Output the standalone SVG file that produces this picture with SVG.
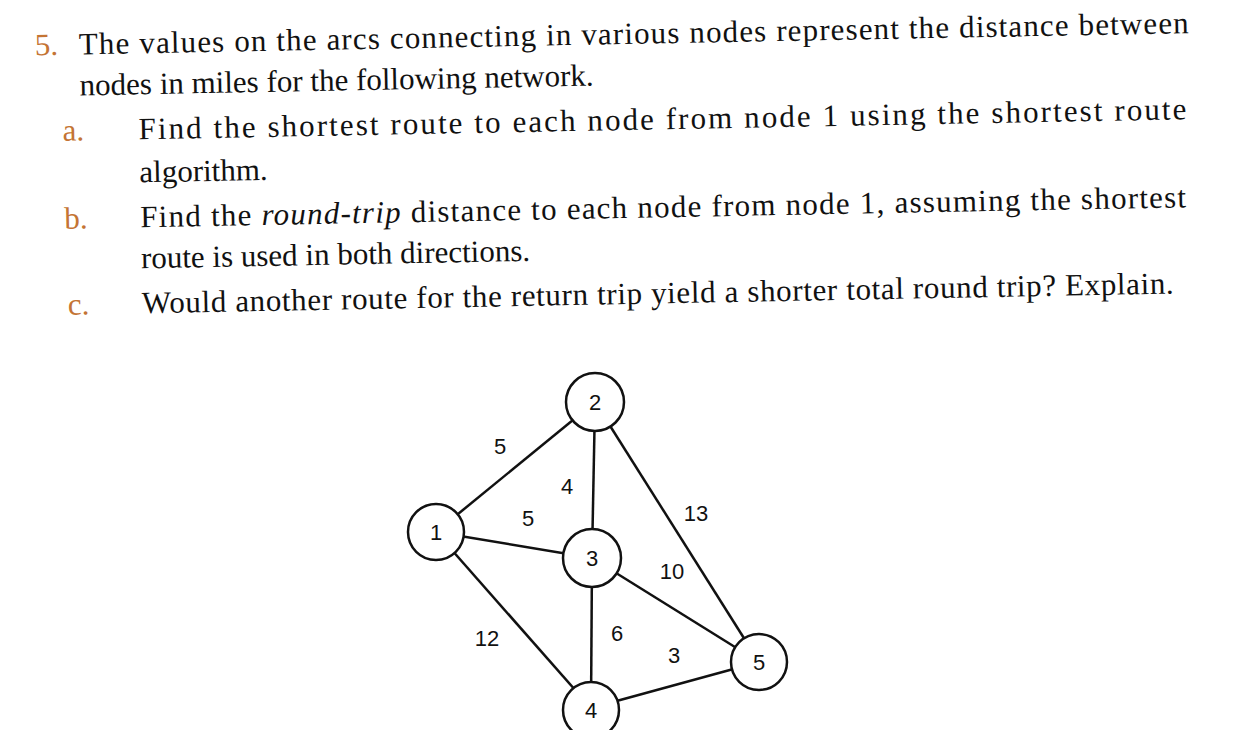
<svg xmlns="http://www.w3.org/2000/svg" width="1259" height="730" viewBox="0 0 1259 730">
<style>
.t{font-family:"Liberation Serif",serif;font-size:31px;fill:#111}
.o{fill:#c47434}
.n{fill:#fff;stroke:#111;stroke-width:2.5}
.l{font-family:"Liberation Sans",sans-serif;font-size:22px;fill:#111;text-anchor:middle}
#edges line{stroke:#111;stroke-width:2.5}
</style>
<rect width="1259" height="730" fill="#fff"/>
<g transform="rotate(-1.1 0 0)">
<text class="t o" x="34" y="56">5.</text>
<text class="t" x="78" y="56" textLength="1110" lengthAdjust="spacing">The values on the arcs connecting in various nodes represent the distance between</text>
<text class="t" x="78" y="97">nodes in miles for the following network.</text>
<text class="t o" x="60" y="142">a.</text>
<text class="t" x="136" y="142" textLength="1048" lengthAdjust="spacing">Find the shortest route to each node from node 1 using the shortest route</text>
<text class="t" x="136" y="185">algorithm.</text>
<text class="t o" x="60" y="230">b.</text>
<text class="t" x="136" y="230" textLength="1046" lengthAdjust="spacing">Find the <tspan font-style="italic">round-trip</tspan> distance to each node from node 1, assuming the shortest</text>
<text class="t" x="136" y="271">route is used in both directions.</text>
<text class="t o" x="62" y="316">c.</text>
<text class="t" x="136" y="316" textLength="1032" lengthAdjust="spacing">Would another route for the return trip yield a shorter total round trip? Explain.</text>
</g>
<g id="edges">
<line x1="436" y1="532" x2="595" y2="402"/>
<line x1="436" y1="532" x2="592" y2="558"/>
<line x1="436" y1="532" x2="591" y2="708"/>
<line x1="595" y1="402" x2="592" y2="558"/>
<line x1="595" y1="402" x2="759" y2="662"/>
<line x1="592" y1="558" x2="591" y2="708"/>
<line x1="592" y1="558" x2="759" y2="662"/>
<line x1="591" y1="708" x2="759" y2="662"/>
<text class="l" x="500" y="454">5</text>
<text class="l" x="567" y="494">4</text>
<text class="l" x="528" y="526">5</text>
<text class="l" x="696" y="521">13</text>
<text class="l" x="672" y="579">10</text>
<text class="l" x="487" y="646">12</text>
<text class="l" x="617" y="641">6</text>
<text class="l" x="674" y="663">3</text>
</g>
<g id="node1"><circle class="n" cx="436" cy="532" r="28"/><text class="l" x="436" y="540">1</text></g>
<g id="node2"><circle class="n" cx="595" cy="402" r="29"/><text class="l" x="595" y="410">2</text></g>
<g id="node3"><circle class="n" cx="592" cy="558" r="29"/><text class="l" x="592" y="566">3</text></g>
<g id="node4"><circle class="n" cx="591" cy="710" r="28"/><text class="l" x="591" y="718">4</text></g>
<g id="node5"><circle class="n" cx="759" cy="662" r="28"/><text class="l" x="759" y="670">5</text></g>
</svg>
